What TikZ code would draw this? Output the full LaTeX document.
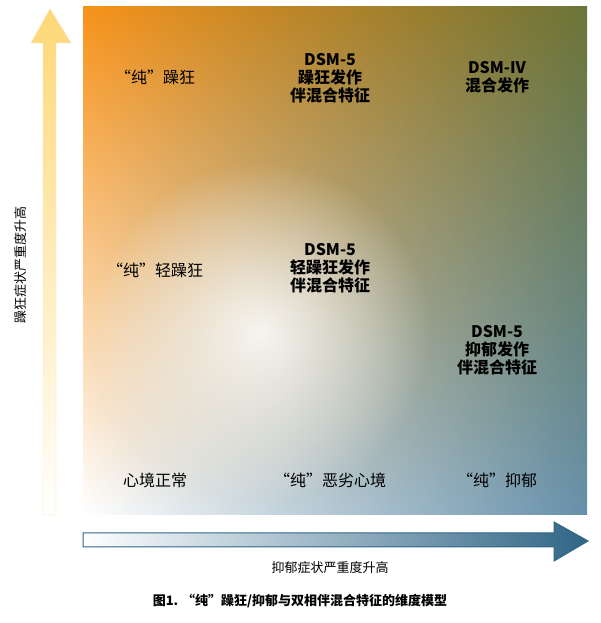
\documentclass[tikz,border=0pt]{standalone}
\usepackage{fontspec}
\setmainfont{Noto Sans CJK SC}
\usetikzlibrary{fadings,shadings}
\tikzfading[name=centerfade, inner color=transparent!0, outer color=transparent!100]
\definecolor{orng}{HTML}{F7921A}
\definecolor{olv}{HTML}{6B7438}
\definecolor{stb}{HTML}{6690AA}
\definecolor{ylw}{HTML}{FDD877}
\definecolor{dblue}{HTML}{2F6585}
\begin{document}
\begin{tikzpicture}[x=1pt,y=1pt,
  lbl/.style={font=\fontsize{16}{19}\selectfont,align=center,text=black},
  blbl/.style={font=\fontsize{16}{18}\selectfont\bfseries,align=center,text=black}]
\useasboundingbox (0,0) rectangle (600,623);
\fill[white] (0,0) rectangle (600,623);
% quadrant
\shade[upper left=orng, upper right=olv, lower left=white, lower right=stb] (83,108) rectangle (587,616);
\begin{scope}
\clip (83,108) rectangle (587,616);
\fill[white, path fading=centerfade, opacity=0.85] (260,290) circle (170);
\end{scope}
% vertical arrow
\shade[bottom color=white, top color=ylw, draw=ylw!70!white] (43,108) -- (43,580) -- (31,580) -- (50,614) -- (71,580) -- (56,580) -- (56,108) -- cycle;
% horizontal arrow
\shade[left color=white, right color=dblue, draw=dblue, line width=1pt] (83,90) -- (554,90) -- (554,101) -- (588,82) -- (554,62) -- (554,76) -- (83,76) -- cycle;
\node[lbl] (a) at (155,546) {“纯”躁狂};
\node[blbl] (b) at (330,545) {DSM-5\\躁狂发作\\伴混合特征};
\node[blbl] (c) at (497,546) {DSM-IV\\混合发作};
\node[lbl] (d) at (155,353) {“纯”轻躁狂};
\node[blbl] (e) at (330,355) {DSM-5\\轻躁狂发作\\伴混合特征};
\node[blbl] (f) at (497,273) {DSM-5\\抑郁发作\\伴混合特征};
\node[lbl] (g) at (155,143) {心境正常};
\node[lbl] (h) at (330,143) {“纯”恶劣心境};
\node[lbl] (i) at (497,143) {“纯”抑郁};
\node[font=\fontsize{13}{15}\selectfont, rotate=90] (vy) at (21,358) {躁狂症状严重度升高};
\node[font=\fontsize{13}{15}\selectfont] (vx) at (330,55) {抑郁症状严重度升高};
\node[font=\fontsize{13}{15}\selectfont\bfseries] (cap) at (300,22) {图1. “纯”躁狂/抑郁与双相伴混合特征的维度模型};
\end{tikzpicture}
\end{document}
